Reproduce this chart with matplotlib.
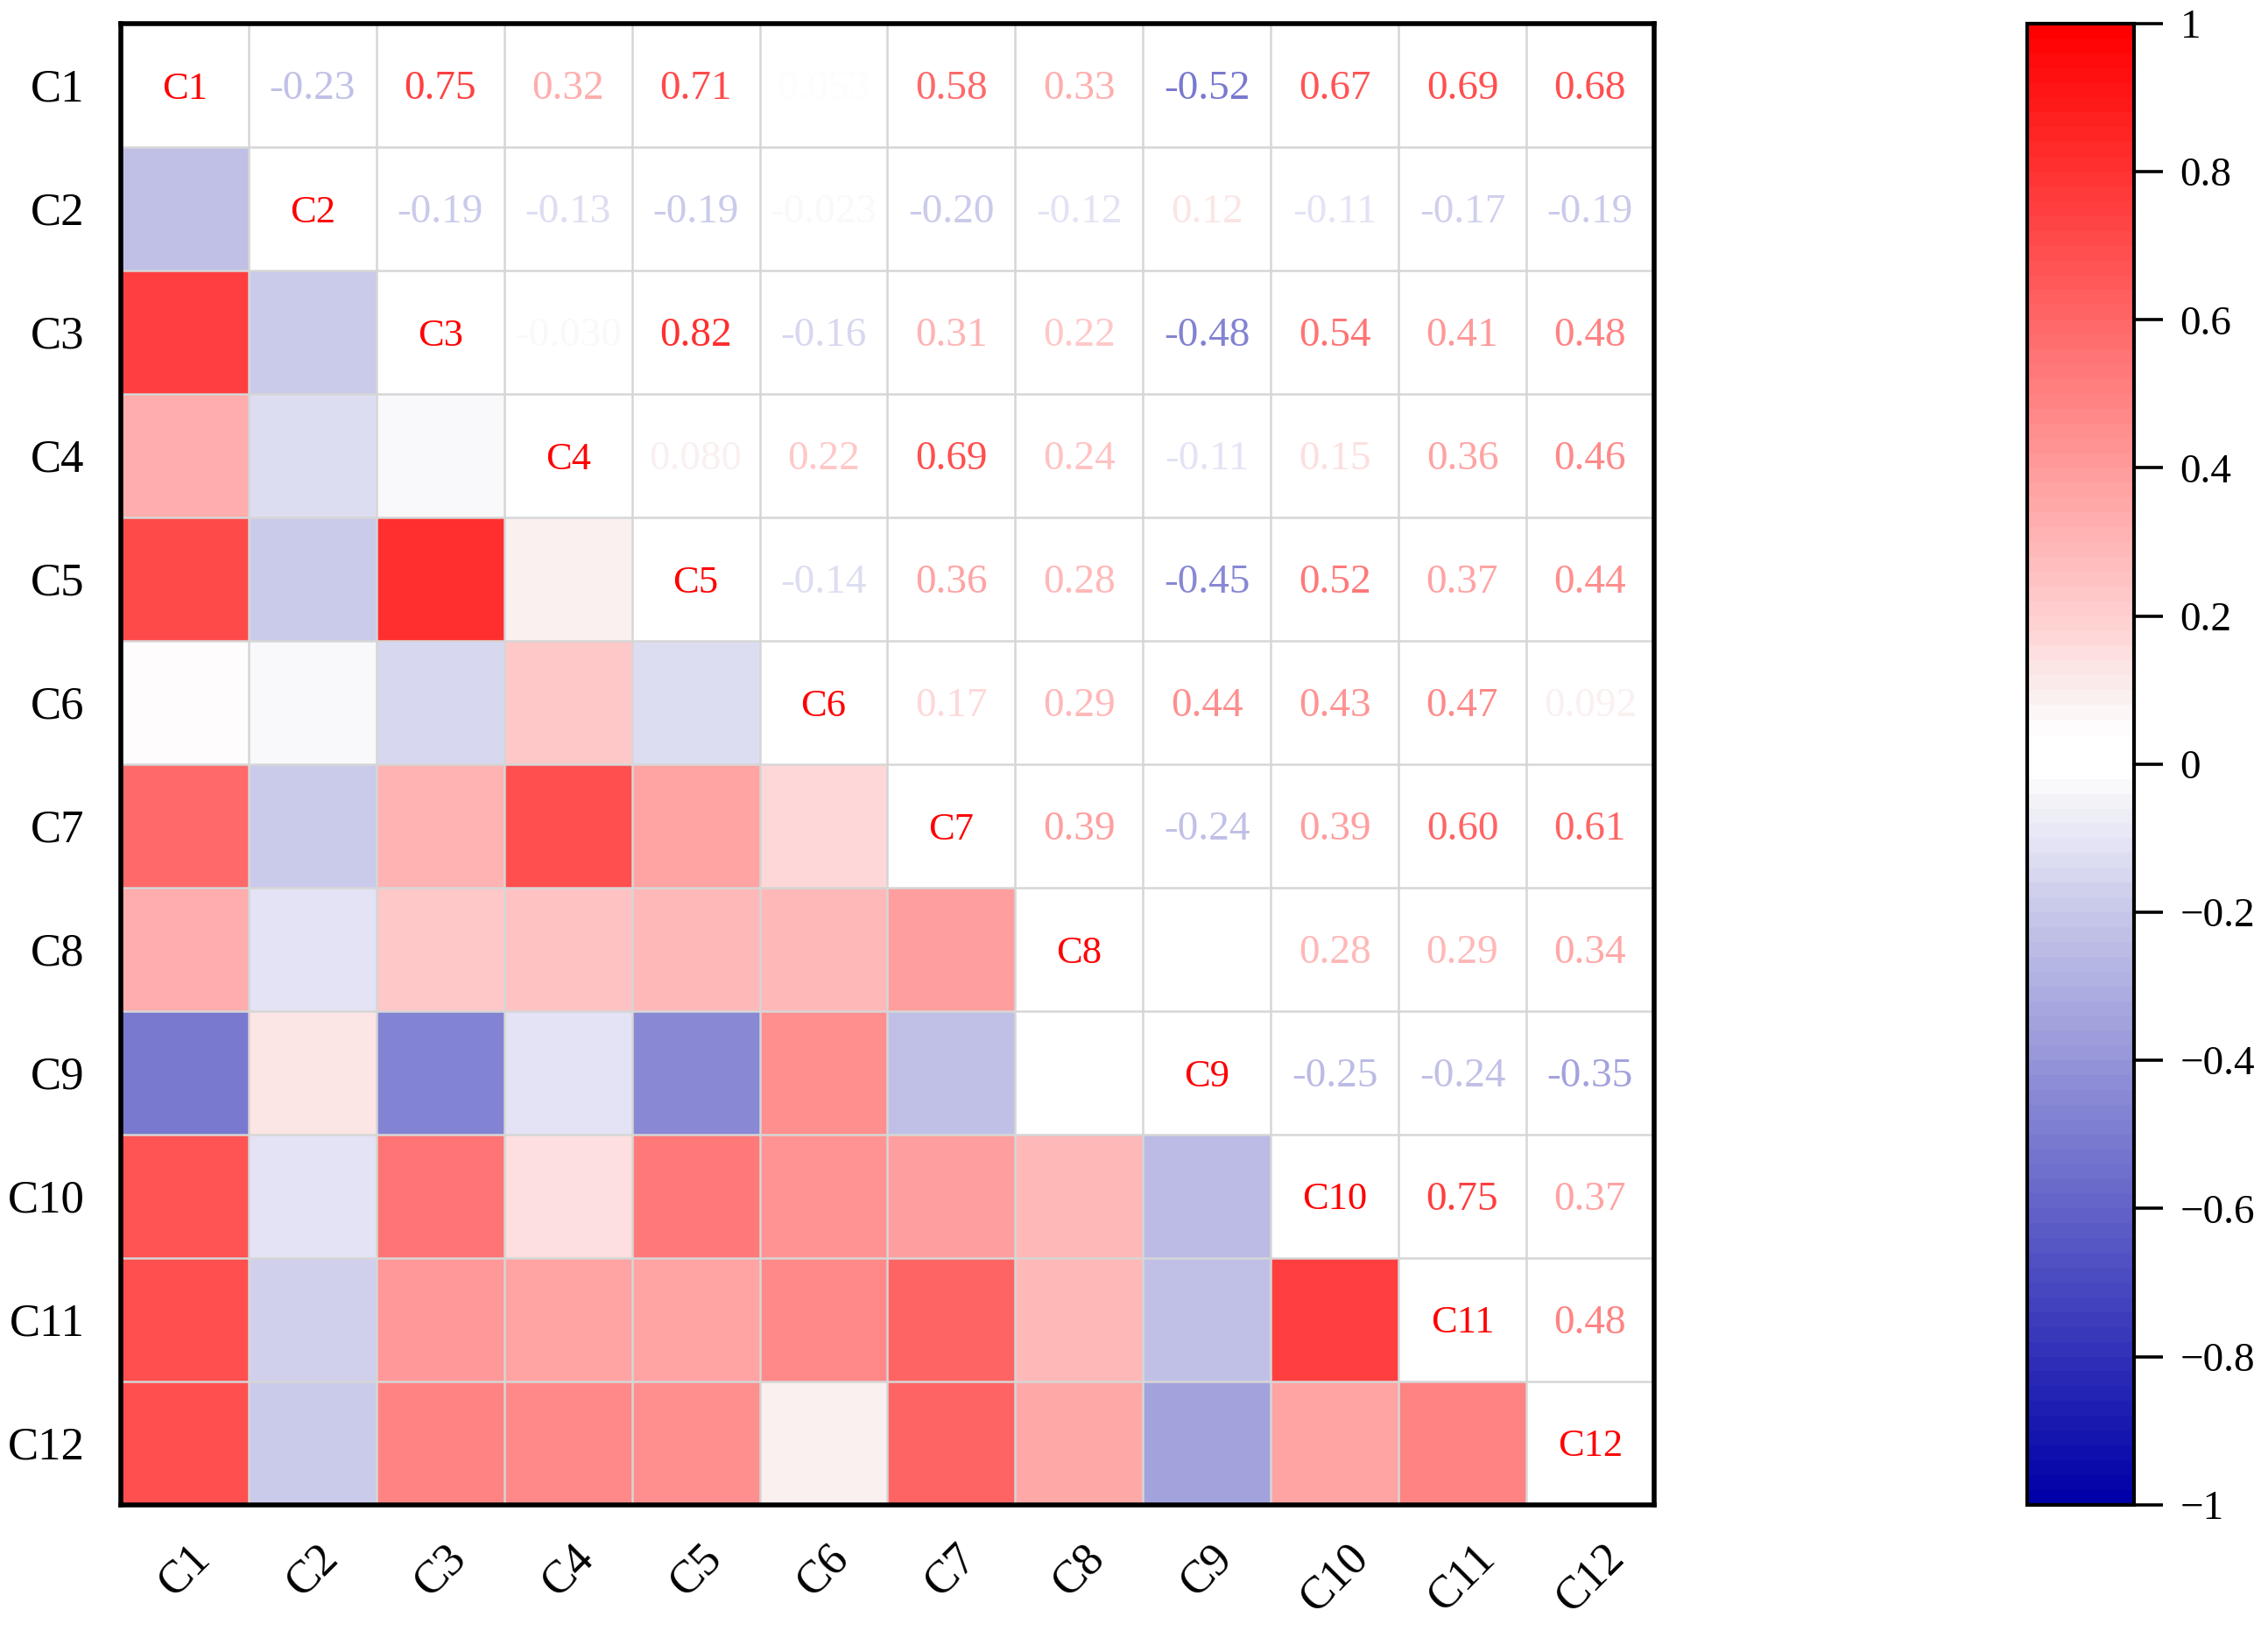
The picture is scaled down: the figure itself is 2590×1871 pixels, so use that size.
import numpy as np
import matplotlib.pyplot as plt
from matplotlib.colors import LinearSegmentedColormap, Normalize
from matplotlib.cm import ScalarMappable

plt.rcParams['font.family'] = ['Liberation Serif', 'DejaVu Serif']

# variable names
labels = ['C1', 'C2', 'C3', 'C4', 'C5', 'C6', 'C7', 'C8', 'C9', 'C10', 'C11', 'C12']

# upper triangle of the correlation matrix, row by row (right of diagonal)
r_c1 = [-0.23, 0.75, 0.32, 0.71, 0.053, 0.58, 0.33, -0.52, 0.67, 0.69, 0.68]
r_c2 = [-0.19, -0.13, -0.19, -0.023, -0.20, -0.12, 0.12, -0.11, -0.17, -0.19]
r_c3 = [-0.030, 0.82, -0.16, 0.31, 0.22, -0.48, 0.54, 0.41, 0.48]
r_c4 = [0.080, 0.22, 0.69, 0.24, -0.11, 0.15, 0.36, 0.46]
r_c5 = [-0.14, 0.36, 0.28, -0.45, 0.52, 0.37, 0.44]
r_c6 = [0.17, 0.29, 0.44, 0.43, 0.47, 0.092]
r_c7 = [0.39, -0.24, 0.39, 0.60, 0.61]
r_c8 = [0.004, 0.28, 0.29, 0.34]
r_c9 = [-0.25, -0.24, -0.35]
r_c10 = [0.75, 0.37]
r_c11 = [0.48]
upper_rows = [r_c1, r_c2, r_c3, r_c4, r_c5, r_c6, r_c7, r_c8, r_c9, r_c10, r_c11]

cbar_ticks = [-1, -0.8, -0.6, -0.4, -0.2, 0, 0.2, 0.4, 0.6, 0.8, 1]
cbar_labels = ['\u22121', '\u22120.8', '\u22120.6', '\u22120.4', '\u22120.2', '0',
               '0.2', '0.4', '0.6', '0.8', '1']

n = len(labels)
corr = np.eye(n)
for i, row in enumerate(upper_rows):
    for k, v in enumerate(row):
        j = i + 1 + k
        corr[i, j] = v
        corr[j, i] = v

# blue - white - red scale with a flat white zone around zero
nodes = [(-1.0, '#0000a8'), (-0.2, '#c8c8ea'), (-0.1, '#e6e6f6'), (-0.04, '#f4f4f7'),
         (-0.02, '#ffffff'), (0.04, '#ffffff'), (0.09, '#faf0f0'), (0.12, '#fce8e8'),
         (0.2, '#ffd0d0'), (1.0, '#ff0000')]
cmap = LinearSegmentedColormap.from_list(
    'bwr_custom', [((v + 1) / 2, c) for v, c in nodes], N=100)
norm = Normalize(vmin=-1, vmax=1)

fig = plt.figure(figsize=(12.95, 9.355), dpi=200)
ax = fig.add_axes([0.0533, 0.0814, 0.676, 0.9042])

# lower triangle coloured cells
lower = np.ma.masked_where(np.triu(np.ones((n, n), dtype=bool)), corr)
ax.pcolormesh(np.arange(n + 1), np.arange(n + 1), lower, cmap=cmap, norm=norm,
              edgecolors='none')
ax.set_xlim(0, n)
ax.set_ylim(n, 0)

# cell grid
for k in range(1, n):
    ax.axhline(k, color='#d6d6d6', lw=0.9, zorder=2)
    ax.axvline(k, color='#d6d6d6', lw=0.9, zorder=2)

# numbers in the upper triangle, names on the diagonal
for i in range(n):
    ax.text(i + 0.5, i + 0.53, labels[i], color='#ff0000', fontsize=16,
            ha='center', va='center')
    for j in range(i + 1, n):
        v = corr[i, j]
        txt = f'{v:#.2g}'
        ax.text(j + 0.5, i + 0.53, txt, color=cmap(norm(v)), fontsize=17,
                ha='center', va='center')

ax.set_xticks(np.arange(n) + 0.5)
ax.set_xticklabels(labels, rotation=45, ha='center', va='top', fontsize=19)
ax.set_yticks(np.arange(n) + 0.5)
ax.set_yticklabels(labels, fontsize=19)
ax.tick_params(axis='x', length=0, pad=13)
ax.tick_params(axis='y', length=0, pad=15)
for sp in ax.spines.values():
    sp.set_linewidth(2.0)
    sp.set_color('black')

# colour bar
cax = fig.add_axes([0.8938, 0.0814, 0.0471, 0.9042])
cb = fig.colorbar(ScalarMappable(norm=norm, cmap=cmap), cax=cax, ticks=cbar_ticks)
cb.set_ticklabels(cbar_labels)
cb.outline.set_linewidth(1.5)
cax.tick_params(length=12, width=1.3, pad=7, labelsize=17)

fig.savefig('out.png', dpi=200, facecolor='white')
